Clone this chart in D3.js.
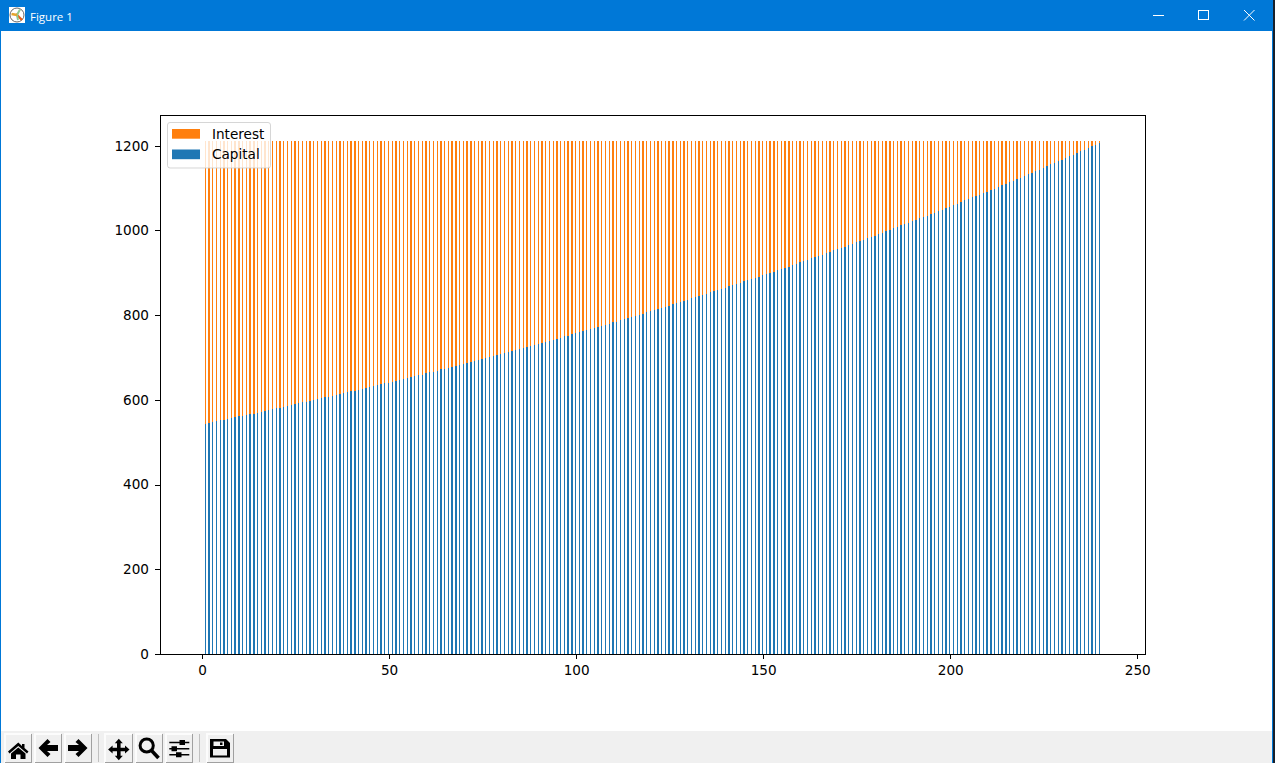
<!DOCTYPE html>
<html>
<head>
<meta charset="utf-8">
<title>Figure 1</title>
<script src="https://cdnjs.cloudflare.com/ajax/libs/d3/7.8.5/d3.min.js"></script>
<style>
    html, body { margin: 0; padding: 0; background: #fff; overflow: hidden; }
    svg { display: block; }
    .axis text { font-family: "DejaVu Sans", sans-serif; font-size: 13.6px; fill: #000; }
    .axis line { stroke: #000; stroke-width: 1; shape-rendering: crispEdges; }
</style>
</head>
<body>
<svg id="chart" width="1275" height="763"></svg>
<script>
const months = d3.range(1, 241);

// one value per month
const capital = [
    545,547,549,551,553,554,556,558,560,562,
    564,566,568,569,571,573,575,577,579,581,
    583,585,587,589,591,593,595,597,599,601,
    603,605,607,609,611,613,615,617,619,621,
    623,625,627,629,631,633,636,638,640,642,
    644,646,648,651,653,655,657,659,661,664,
    666,668,670,673,675,677,679,682,684,686,
    688,691,693,695,698,700,702,705,707,709,
    712,714,717,719,721,724,726,729,731,733,
    736,738,741,743,746,748,751,753,756,758,
    761,763,766,768,771,773,776,779,781,784,
    786,789,792,794,797,800,802,805,808,810,
    813,816,818,821,824,827,829,832,835,838,
    841,843,846,849,852,855,858,860,863,866,
    869,872,875,878,881,884,886,889,892,895,
    898,901,904,907,910,913,916,919,923,926,
    929,932,935,938,941,944,947,951,954,957,
    960,963,967,970,973,976,979,983,986,989,
    993,996,999,1003,1006,1009,1013,1016,1019,1023,
    1026,1030,1033,1036,1040,1043,1047,1050,1054,1057,
    1061,1064,1068,1072,1075,1079,1082,1086,1090,1093,
    1097,1100,1104,1108,1112,1115,1119,1123,1126,1130,
    1134,1138,1142,1145,1149,1153,1157,1161,1165,1168,
    1172,1176,1180,1184,1188,1192,1196,1200,1204,1208
];
const interest = [
    667,665,663,661,659,658,656,654,652,650,
    648,646,644,643,641,639,637,635,633,631,
    629,627,625,623,621,619,617,615,613,611,
    609,607,605,603,601,599,597,595,593,591,
    589,587,585,583,581,579,576,574,572,570,
    568,566,564,561,559,557,555,553,551,548,
    546,544,542,539,537,535,533,530,528,526,
    524,521,519,517,514,512,510,507,505,503,
    500,498,495,493,491,488,486,483,481,479,
    476,474,471,469,466,464,461,459,456,454,
    451,449,446,444,441,439,436,433,431,428,
    426,423,420,418,415,412,410,407,404,402,
    399,396,394,391,388,385,383,380,377,374,
    371,369,366,363,360,357,354,352,349,346,
    343,340,337,334,331,328,326,323,320,317,
    314,311,308,305,302,299,296,293,289,286,
    283,280,277,274,271,268,265,261,258,255,
    252,249,245,242,239,236,233,229,226,223,
    219,216,213,209,206,203,199,196,193,189,
    186,182,179,176,172,169,165,162,158,155,
    151,148,144,140,137,133,130,126,122,119,
    115,112,108,104,100,97,93,89,86,82,
    78,74,70,67,63,59,55,51,47,44,
    40,36,32,28,24,20,16,12,8,4
];
const legendLabels = ["Interest", "Capital"];
const xTicks = [0, 50, 100, 150, 200, 250];
const yTicks = [0, 200, 400, 600, 800, 1000, 1200];

const BLUE = "#1f77b4", ORANGE = "#ff7f0e", BAR_WIDTH = 0.35;
const plot = { left: 160, right: 1145, top: 115, bottom: 654 };

const svg = d3.select("#chart");

// window chrome around the figure
svg.append("rect").attr("width", 1275).attr("height", 763).attr("fill", "#fff");
svg.append("rect").attr("width", 1275).attr("height", 31).attr("fill", "#0078d7");
svg.append("rect").attr("y", 731).attr("width", 1275).attr("height", 32).attr("fill", "#f0f0f0");
svg.append("rect").attr("width", 1).attr("height", 763).attr("fill", "#0078d7");
svg.append("rect").attr("x", 1272).attr("width", 1).attr("height", 763).attr("fill", "#0078d7");
svg.append("rect").attr("x", 1273).attr("width", 2).attr("height", 763).attr("fill", "#17202b");

const appIcon = svg.append("g").attr("transform", "translate(9,7)");
appIcon.append("rect").attr("width", 16).attr("height", 16).attr("fill", "#fff");
appIcon.append("circle").attr("cx", 8).attr("cy", 8).attr("r", 7).attr("fill", "none").attr("stroke", "#666");
appIcon.append("path").attr("d", "M7 7L13 13").attr("stroke", "#e8601c").attr("stroke-width", 2.4);
appIcon.append("path").attr("d", "M11 2.5L8 8L9 13").attr("fill", "none").attr("stroke", "#8fc98f").attr("stroke-width", 2);
appIcon.append("path").attr("d", "M2.5 7L8 8").attr("stroke", "#e5a52e").attr("stroke-width", 2.6);

svg.append("text").attr("x", 30).attr("y", 20.5).attr("fill", "#fff")
    .style("font-family", "'Open Sans', sans-serif").style("font-size", "11.5px").text("Figure 1");

const winStroke = svg.append("g").attr("fill", "none").attr("stroke", "#fff").attr("stroke-width", 1);
winStroke.append("path").attr("d", "M1153 15.5H1164").style("shape-rendering", "crispEdges");
winStroke.append("rect").attr("x", 1198.5).attr("y", 10.5).attr("width", 10).attr("height", 9).style("shape-rendering", "crispEdges");
winStroke.append("path").attr("d", "M1244 10L1254.5 20.5M1254.5 10L1244 20.5");

// toolbar
const buttons = [
    { x: 4, w: 28, icon: "home" }, { x: 34, w: 28, icon: "back" }, { x: 64, w: 28, icon: "forward" },
    { x: 104, w: 29, icon: "move" }, { x: 135, w: 28, icon: "zoom" }, { x: 165, w: 28, icon: "config" },
    { x: 206, w: 28, icon: "save" }
];
const icons = {
    home: "M14.3 9.5L4 18.5L5.5 20.5L14.3 13L23 20.5L24.5 18.5L20.5 15V11H18V13Z M7 20.5V26H12V21.5H16.5V26H21.5V20.5L14.3 14.5Z",
    back: "M13.5 6L4.5 15L13.5 24L16.5 21L13 18H24V12H13L16.5 9Z",
    forward: "M14.5 6L23.5 15L14.5 24L11.5 21L15 18H4V12H15L11.5 9Z",
    move: "M14.8 5.8L18.8 10.3H16.6V14.7H21V12.5L25.5 16.5L21 20.5V18.3H16.6V22.7H18.8L14.8 27.2L10.8 22.7H13V18.3H8.6V20.5L4.1 16.5L8.6 12.5V14.7H13V10.3H10.8Z"
};
const tb = svg.append("g");
buttons.forEach(b => {
    const g = tb.append("g").attr("transform", `translate(${b.x},733)`);
    g.append("rect").attr("width", b.w).attr("height", 30).attr("fill", "#f0f0f0");
    g.append("path").attr("d", `M1 30V1H${b.w - 1}`).attr("fill", "none").attr("stroke", "#fcfcfc").attr("stroke-width", 2).style("shape-rendering", "crispEdges");
    g.append("path").attr("d", `M0.5 29.5H${b.w - 0.5}V0.5`).attr("fill", "none").attr("stroke", "#a0a0a0").style("shape-rendering", "crispEdges");
    if (icons[b.icon]) {
        g.append("path").attr("d", icons[b.icon]).attr("fill", "#000");
    } else if (b.icon === "zoom") {
        g.append("circle").attr("cx", 11.7).attr("cy", 12.5).attr("r", 6.6).attr("fill", "none").attr("stroke", "#000").attr("stroke-width", 3);
        g.append("path").attr("d", "M16.5 17.5L23.5 25").attr("stroke", "#000").attr("stroke-width", 3.6);
    } else if (b.icon === "config") {
        g.append("path").attr("d", "M4.3 9.5H24.3M4.3 15.7H24.3M4.3 21.7H24.3").attr("stroke", "#000").attr("stroke-width", 1.6);
        g.append("path").attr("d", "M14.5 7H20V12H14.5Z M6.5 13.2H12V18.2H6.5Z M11 19.2H16.5V24.2H11Z").attr("fill", "#000");
    } else if (b.icon === "save") {
        g.append("path").attr("d", "M4 6H20L24 10V24.5H4Z M7.5 8.5V13H18V8.5Z M7 16V22.5H21V16Z M14 9.5H16.5V12H14Z").attr("fill", "#000").attr("fill-rule", "evenodd");
    }
});
tb.selectAll("rect.sep").data([98, 199]).join("rect").attr("class", "sep")
    .attr("x", d => d).attr("y", 734).attr("width", 1).attr("height", 28).attr("fill", "#c0c0c0");

// scales, limits as matplotlib picks them: 5% margin around the bars
const x = d3.scaleLinear().domain([-11.14, 252.14]).range([159.8, 1144.8]);
const y = d3.scaleLinear().domain([0, 1272.6]).range([654.5, 115.5]);

const stacked = d3.stack().keys(["capital", "interest"])(
    months.map((m, i) => ({ month: m, capital: capital[i], interest: interest[i] }))
);

// edges rounded to whole pixels so bars are 1 or 2 px wide like Agg snapping does
const bars = svg.append("g").attr("shape-rendering", "crispEdges");
bars.selectAll("g").data(stacked).join("g")
    .attr("fill", d => d.key === "capital" ? BLUE : ORANGE)
    .selectAll("rect").data(d => d).join("rect")
    .attr("x", d => Math.round(x(d.data.month - BAR_WIDTH / 2)))
    .attr("width", d => Math.round(x(d.data.month + BAR_WIDTH / 2)) - Math.round(x(d.data.month - BAR_WIDTH / 2)))
    .attr("y", d => Math.round(y(d[1])))
    .attr("height", d => Math.round(y(d[0])) - Math.round(y(d[1])));

// axes
const xAxis = svg.append("g").attr("class", "axis")
    .attr("transform", `translate(0.5,${plot.bottom})`)
    .call(d3.axisBottom(x).tickValues(xTicks).tickFormat(d3.format("d")).tickSize(5).tickPadding(6.5));
const yAxis = svg.append("g").attr("class", "axis")
    .attr("transform", `translate(${plot.left},-0.5)`)
    .call(d3.axisLeft(y).tickValues(yTicks).tickFormat(d3.format("d")).tickSize(5).tickPadding(6));
xAxis.select(".domain").remove();
yAxis.select(".domain").remove();

svg.append("rect")
    .attr("x", plot.left + 0.5).attr("y", plot.top + 0.5)
    .attr("width", plot.right - plot.left).attr("height", plot.bottom - plot.top)
    .attr("fill", "none").attr("stroke", "#000").attr("shape-rendering", "crispEdges");

// legend
const legend = svg.append("g").attr("transform", "translate(167.5,122.5)");
legend.append("rect").attr("width", 103).attr("height", 45.5).attr("rx", 2.5)
    .attr("fill", "#fff").attr("fill-opacity", 0.8).attr("stroke", "#ccc").attr("stroke-opacity", 0.8);
legend.selectAll("rect.key").data(legendLabels).join("rect").attr("class", "key")
    .attr("x", 4.5).attr("y", (d, i) => 6.5 + i * 20.5).attr("width", 28).attr("height", 9.7)
    .attr("fill", d => d === "Interest" ? ORANGE : BLUE);
legend.selectAll("text").data(legendLabels).join("text")
    .attr("x", 44.5).attr("y", (d, i) => 16.5 + i * 20.3)
    .style("font-family", "'DejaVu Sans', sans-serif").style("font-size", "13.6px").attr("fill", "#000")
    .text(d => d);
</script>
</body>
</html>
